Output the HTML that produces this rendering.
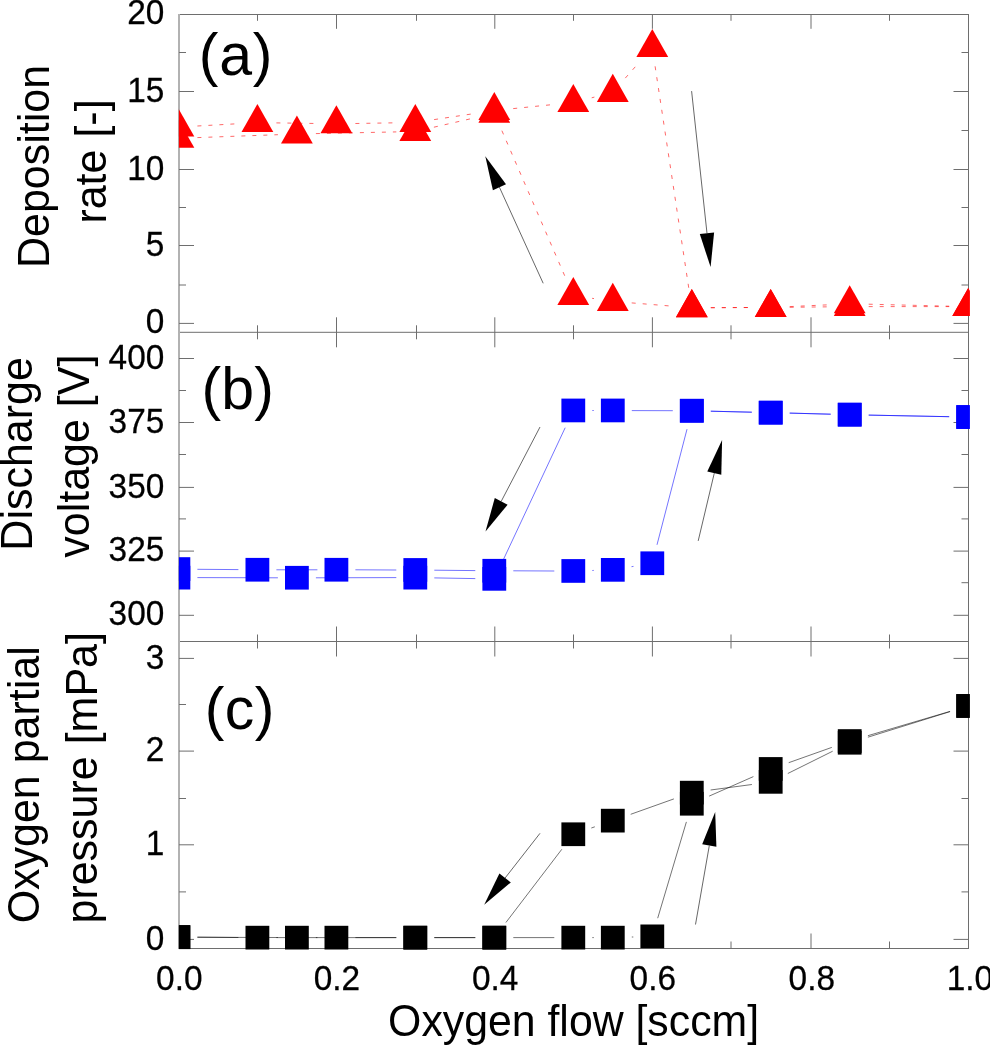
<!DOCTYPE html>
<html lang="en"><head><meta charset="utf-8"><title>Hysteresis chart</title>
<style>html,body{margin:0;padding:0;background:#fff}body{width:990px;height:1045px;overflow:hidden}svg{display:block}text{font-family:"Liberation Sans",Arial,sans-serif;fill:#000}</style></head><body>
<svg width="990" height="1045" viewBox="0 0 990 1045">
<rect width="990" height="1045" fill="#fff"/>
<defs><clipPath id="clip"><rect x="178.9" y="0" width="790.8" height="1045"/></clipPath></defs>
<g stroke="#6e6e6e" stroke-width="1" fill="none">
<line x1="179.0" y1="14.5" x2="969.0" y2="14.5"/>
<line x1="179.0" y1="332.3" x2="968.5" y2="332.3"/>
<line x1="179.0" y1="641.5" x2="968.5" y2="641.5"/>
<line x1="179.0" y1="948.5" x2="969.0" y2="948.5"/>
<line x1="968.5" y1="14.5" x2="968.5" y2="948.5"/>
</g>
<line x1="179.0" y1="14.0" x2="179.0" y2="949.0" stroke="#b2b2b2" stroke-width="2"/>
<g stroke="#6e6e6e" stroke-width="1">
<line x1="179.0" y1="52.5" x2="186.0" y2="52.5"/><line x1="961.5" y1="52.5" x2="968.5" y2="52.5"/>
<line x1="179.0" y1="91.5" x2="194.0" y2="91.5"/><line x1="953.5" y1="91.5" x2="968.5" y2="91.5"/>
<line x1="179.0" y1="130.5" x2="186.0" y2="130.5"/><line x1="961.5" y1="130.5" x2="968.5" y2="130.5"/>
<line x1="179.0" y1="169.5" x2="194.0" y2="169.5"/><line x1="953.5" y1="169.5" x2="968.5" y2="169.5"/>
<line x1="179.0" y1="207.5" x2="186.0" y2="207.5"/><line x1="961.5" y1="207.5" x2="968.5" y2="207.5"/>
<line x1="179.0" y1="245.5" x2="194.0" y2="245.5"/><line x1="953.5" y1="245.5" x2="968.5" y2="245.5"/>
<line x1="179.0" y1="285.0" x2="186.0" y2="285.0"/><line x1="961.5" y1="285.0" x2="968.5" y2="285.0"/>
<line x1="179.0" y1="323.4" x2="194.0" y2="323.4"/><line x1="953.5" y1="323.4" x2="968.5" y2="323.4"/>
</g>
<g stroke="#6e6e6e" stroke-width="1">
<line x1="179.0" y1="358.5" x2="194.0" y2="358.5"/><line x1="953.5" y1="358.5" x2="968.5" y2="358.5"/>
<line x1="179.0" y1="390.5" x2="186.0" y2="390.5"/><line x1="961.5" y1="390.5" x2="968.5" y2="390.5"/>
<line x1="179.0" y1="422.5" x2="194.0" y2="422.5"/><line x1="953.5" y1="422.5" x2="968.5" y2="422.5"/>
<line x1="179.0" y1="454.5" x2="186.0" y2="454.5"/><line x1="961.5" y1="454.5" x2="968.5" y2="454.5"/>
<line x1="179.0" y1="487.4" x2="194.0" y2="487.4"/><line x1="953.5" y1="487.4" x2="968.5" y2="487.4"/>
<line x1="179.0" y1="518.9" x2="186.0" y2="518.9"/><line x1="961.5" y1="518.9" x2="968.5" y2="518.9"/>
<line x1="179.0" y1="551.1" x2="194.0" y2="551.1"/><line x1="953.5" y1="551.1" x2="968.5" y2="551.1"/>
<line x1="179.0" y1="582.7" x2="186.0" y2="582.7"/><line x1="961.5" y1="582.7" x2="968.5" y2="582.7"/>
<line x1="179.0" y1="615.3" x2="194.0" y2="615.3"/><line x1="953.5" y1="615.3" x2="968.5" y2="615.3"/>
</g>
<g stroke="#6e6e6e" stroke-width="1">
<line x1="179.0" y1="658.4" x2="194.0" y2="658.4"/><line x1="953.5" y1="658.4" x2="968.5" y2="658.4"/>
<line x1="179.0" y1="704.5" x2="186.0" y2="704.5"/><line x1="961.5" y1="704.5" x2="968.5" y2="704.5"/>
<line x1="179.0" y1="751.1" x2="194.0" y2="751.1"/><line x1="953.5" y1="751.1" x2="968.5" y2="751.1"/>
<line x1="179.0" y1="798.5" x2="186.0" y2="798.5"/><line x1="961.5" y1="798.5" x2="968.5" y2="798.5"/>
<line x1="179.0" y1="844.8" x2="194.0" y2="844.8"/><line x1="953.5" y1="844.8" x2="968.5" y2="844.8"/>
<line x1="179.0" y1="891.9" x2="186.0" y2="891.9"/><line x1="961.5" y1="891.9" x2="968.5" y2="891.9"/>
<line x1="179.0" y1="939.4" x2="194.0" y2="939.4"/><line x1="953.5" y1="939.4" x2="968.5" y2="939.4"/>
</g>
<g stroke="#6e6e6e" stroke-width="1">
<line x1="257.5" y1="14.5" x2="257.5" y2="20.8"/>
<line x1="257.5" y1="325.3" x2="257.5" y2="339.3"/>
<line x1="257.5" y1="634.5" x2="257.5" y2="648.5"/>
<line x1="257.5" y1="941.5" x2="257.5" y2="948.5"/>
<line x1="336.5" y1="14.5" x2="336.5" y2="28.8"/>
<line x1="336.5" y1="317.3" x2="336.5" y2="347.3"/>
<line x1="336.5" y1="626.5" x2="336.5" y2="656.5"/>
<line x1="336.5" y1="933.5" x2="336.5" y2="948.5"/>
<line x1="416.5" y1="14.5" x2="416.5" y2="20.8"/>
<line x1="416.5" y1="325.3" x2="416.5" y2="339.3"/>
<line x1="416.5" y1="634.5" x2="416.5" y2="648.5"/>
<line x1="416.5" y1="941.5" x2="416.5" y2="948.5"/>
<line x1="494.8" y1="14.5" x2="494.8" y2="28.8"/>
<line x1="494.8" y1="317.3" x2="494.8" y2="347.3"/>
<line x1="494.8" y1="626.5" x2="494.8" y2="656.5"/>
<line x1="494.8" y1="933.5" x2="494.8" y2="948.5"/>
<line x1="573.5" y1="14.5" x2="573.5" y2="20.8"/>
<line x1="573.5" y1="325.3" x2="573.5" y2="339.3"/>
<line x1="573.5" y1="634.5" x2="573.5" y2="648.5"/>
<line x1="573.5" y1="941.5" x2="573.5" y2="948.5"/>
<line x1="652.4" y1="14.5" x2="652.4" y2="28.8"/>
<line x1="652.4" y1="317.3" x2="652.4" y2="347.3"/>
<line x1="652.4" y1="626.5" x2="652.4" y2="656.5"/>
<line x1="652.4" y1="933.5" x2="652.4" y2="948.5"/>
<line x1="731.0" y1="14.5" x2="731.0" y2="20.8"/>
<line x1="731.0" y1="325.3" x2="731.0" y2="339.3"/>
<line x1="731.0" y1="634.5" x2="731.0" y2="648.5"/>
<line x1="731.0" y1="941.5" x2="731.0" y2="948.5"/>
<line x1="811.0" y1="14.5" x2="811.0" y2="28.8"/>
<line x1="811.0" y1="317.3" x2="811.0" y2="347.3"/>
<line x1="811.0" y1="626.5" x2="811.0" y2="656.5"/>
<line x1="811.0" y1="933.5" x2="811.0" y2="948.5"/>
<line x1="889.5" y1="14.5" x2="889.5" y2="20.8"/>
<line x1="889.5" y1="325.3" x2="889.5" y2="339.3"/>
<line x1="889.5" y1="634.5" x2="889.5" y2="648.5"/>
<line x1="889.5" y1="941.5" x2="889.5" y2="948.5"/>
</g>
<g clip-path="url(#clip)">
<line x1="197.4" y1="126.0" x2="238.4" y2="123.7" stroke="#ff0000" stroke-width="0.6" stroke-dasharray="4 7" fill="none"/>
<line x1="276.4" y1="122.9" x2="317.4" y2="123.5" stroke="#ff0000" stroke-width="0.6" stroke-dasharray="4 7" fill="none"/>
<line x1="355.4" y1="123.5" x2="396.3" y2="122.8" stroke="#ff0000" stroke-width="0.6" stroke-dasharray="4 7" fill="none"/>
<line x1="434.1" y1="119.6" x2="475.5" y2="113.4" stroke="#ff0000" stroke-width="0.6" stroke-dasharray="4 7" fill="none"/>
<line x1="513.2" y1="108.6" x2="554.4" y2="104.4" stroke="#ff0000" stroke-width="0.6" stroke-dasharray="4 7" fill="none"/>
<line x1="591.7" y1="97.8" x2="594.4" y2="97.1" stroke="#ff0000" stroke-width="0.6" stroke-dasharray="4 7" fill="none"/>
<line x1="625.3" y1="78.1" x2="639.7" y2="61.8" stroke="#ff0000" stroke-width="0.6" stroke-dasharray="4 7" fill="none"/>
<line x1="655.1" y1="66.3" x2="688.9" y2="288.9" stroke="#ff0000" stroke-width="0.6" stroke-dasharray="4 7" fill="none"/>
<line x1="710.8" y1="307.7" x2="751.8" y2="307.5" stroke="#ff0000" stroke-width="0.6" stroke-dasharray="4 7" fill="none"/>
<line x1="789.7" y1="306.6" x2="830.8" y2="304.7" stroke="#ff0000" stroke-width="0.6" stroke-dasharray="4 7" fill="none"/>
<line x1="868.7" y1="304.2" x2="949.2" y2="306.2" stroke="#ff0000" stroke-width="0.6" stroke-dasharray="4 7" fill="none"/>
<polygon points="178.4,108.5 162.5,136.6 194.3,136.6" fill="#ff0000"/>
<polygon points="257.4,104.0 241.5,132.1 273.3,132.1" fill="#ff0000"/>
<polygon points="336.4,105.2 320.5,133.3 352.3,133.3" fill="#ff0000"/>
<polygon points="415.3,103.9 399.4,132.0 431.2,132.0" fill="#ff0000"/>
<polygon points="494.3,91.9 478.4,120.0 510.2,120.0" fill="#ff0000"/>
<polygon points="573.3,83.9 557.4,112.0 589.2,112.0" fill="#ff0000"/>
<polygon points="612.8,73.8 596.9,101.9 628.7,101.9" fill="#ff0000"/>
<polygon points="652.3,28.9 636.4,57.0 668.2,57.0" fill="#ff0000"/>
<polygon points="691.8,289.1 675.9,317.2 707.7,317.2" fill="#ff0000"/>
<polygon points="770.7,288.9 754.8,317.0 786.6,317.0" fill="#ff0000"/>
<polygon points="849.7,285.2 833.8,313.3 865.6,313.3" fill="#ff0000"/>
<polygon points="968.2,288.0 952.3,316.1 984.1,316.1" fill="#ff0000"/>
<line x1="868.7" y1="306.6" x2="949.2" y2="306.6" stroke="#ff0000" stroke-width="0.6" stroke-dasharray="4 7" fill="none"/>
<line x1="789.7" y1="307.3" x2="830.7" y2="306.8" stroke="#ff0000" stroke-width="0.6" stroke-dasharray="4 7" fill="none"/>
<line x1="710.8" y1="307.7" x2="751.8" y2="307.5" stroke="#ff0000" stroke-width="0.6" stroke-dasharray="4 7" fill="none"/>
<line x1="631.7" y1="302.9" x2="672.8" y2="306.2" stroke="#ff0000" stroke-width="0.6" stroke-dasharray="4 7" fill="none"/>
<line x1="592.1" y1="298.3" x2="594.0" y2="298.6" stroke="#ff0000" stroke-width="0.6" stroke-dasharray="4 7" fill="none"/>
<line x1="501.9" y1="130.7" x2="565.7" y2="278.1" stroke="#ff0000" stroke-width="0.6" stroke-dasharray="4 7" fill="none"/>
<line x1="433.9" y1="127.2" x2="475.8" y2="117.6" stroke="#ff0000" stroke-width="0.6" stroke-dasharray="4 7" fill="none"/>
<line x1="315.9" y1="133.6" x2="396.3" y2="131.9" stroke="#ff0000" stroke-width="0.6" stroke-dasharray="4 7" fill="none"/>
<line x1="197.4" y1="137.6" x2="277.9" y2="134.7" stroke="#ff0000" stroke-width="0.6" stroke-dasharray="4 7" fill="none"/>
<polygon points="968.2,288.0 952.3,316.1 984.1,316.1" fill="#ff0000"/>
<polygon points="849.7,288.0 833.8,316.1 865.6,316.1" fill="#ff0000"/>
<polygon points="770.7,288.9 754.8,317.0 786.6,317.0" fill="#ff0000"/>
<polygon points="691.8,289.1 675.9,317.2 707.7,317.2" fill="#ff0000"/>
<polygon points="612.8,282.8 596.9,310.9 628.7,310.9" fill="#ff0000"/>
<polygon points="573.3,276.9 557.4,305.0 589.2,305.0" fill="#ff0000"/>
<polygon points="494.3,94.7 478.4,122.8 510.2,122.8" fill="#ff0000"/>
<polygon points="415.3,112.9 399.4,141.0 431.2,141.0" fill="#ff0000"/>
<polygon points="296.9,115.4 281.0,143.5 312.8,143.5" fill="#ff0000"/>
<polygon points="178.4,119.7 162.5,147.8 194.3,147.8" fill="#ff0000"/>
<line x1="197.4" y1="569.3" x2="238.4" y2="569.6" stroke="#0000ff" stroke-width="0.55" fill="none"/>
<line x1="276.4" y1="569.8" x2="317.4" y2="569.8" stroke="#0000ff" stroke-width="0.55" fill="none"/>
<line x1="355.4" y1="569.8" x2="396.3" y2="570.0" stroke="#0000ff" stroke-width="0.55" fill="none"/>
<line x1="434.3" y1="570.2" x2="475.3" y2="570.6" stroke="#0000ff" stroke-width="0.55" fill="none"/>
<line x1="513.3" y1="570.8" x2="554.3" y2="571.0" stroke="#0000ff" stroke-width="0.55" fill="none"/>
<line x1="592.3" y1="570.5" x2="593.8" y2="570.4" stroke="#0000ff" stroke-width="0.55" fill="none"/>
<line x1="631.5" y1="566.7" x2="633.5" y2="566.4" stroke="#0000ff" stroke-width="0.55" fill="none"/>
<line x1="657.0" y1="544.8" x2="687.0" y2="429.2" stroke="#0000ff" stroke-width="0.55" fill="none"/>
<line x1="710.8" y1="411.2" x2="751.8" y2="412.2" stroke="#0000ff" stroke-width="0.55" fill="none"/>
<line x1="789.7" y1="413.1" x2="830.7" y2="414.2" stroke="#0000ff" stroke-width="0.55" fill="none"/>
<line x1="868.7" y1="415.1" x2="949.2" y2="416.7" stroke="#0000ff" stroke-width="0.55" fill="none"/>
<rect x="166.5" y="557.2" width="23.8" height="23.7" fill="#0000ff"/>
<rect x="245.5" y="557.9" width="23.8" height="23.7" fill="#0000ff"/>
<rect x="324.5" y="557.9" width="23.8" height="23.7" fill="#0000ff"/>
<rect x="403.4" y="558.1" width="23.8" height="23.7" fill="#0000ff"/>
<rect x="482.4" y="558.9" width="23.8" height="23.7" fill="#0000ff"/>
<rect x="561.4" y="559.1" width="23.8" height="23.7" fill="#0000ff"/>
<rect x="600.9" y="558.0" width="23.8" height="23.7" fill="#0000ff"/>
<rect x="640.4" y="551.4" width="23.8" height="23.7" fill="#0000ff"/>
<rect x="679.9" y="398.9" width="23.8" height="23.7" fill="#0000ff"/>
<rect x="758.8" y="400.8" width="23.8" height="23.7" fill="#0000ff"/>
<rect x="837.8" y="402.8" width="23.8" height="23.7" fill="#0000ff"/>
<rect x="956.3" y="405.2" width="23.8" height="23.7" fill="#0000ff"/>
<line x1="868.7" y1="415.1" x2="949.2" y2="416.7" stroke="#0000ff" stroke-width="0.55" fill="none"/>
<line x1="789.7" y1="413.1" x2="830.7" y2="414.2" stroke="#0000ff" stroke-width="0.55" fill="none"/>
<line x1="710.8" y1="411.2" x2="751.8" y2="412.2" stroke="#0000ff" stroke-width="0.55" fill="none"/>
<line x1="631.8" y1="410.6" x2="672.8" y2="410.7" stroke="#0000ff" stroke-width="0.55" fill="none"/>
<line x1="592.3" y1="410.5" x2="593.8" y2="410.5" stroke="#0000ff" stroke-width="0.55" fill="none"/>
<line x1="502.4" y1="561.7" x2="565.2" y2="427.7" stroke="#0000ff" stroke-width="0.55" fill="none"/>
<line x1="434.3" y1="577.9" x2="475.3" y2="578.6" stroke="#0000ff" stroke-width="0.55" fill="none"/>
<line x1="315.9" y1="577.8" x2="396.3" y2="577.6" stroke="#0000ff" stroke-width="0.55" fill="none"/>
<line x1="197.4" y1="577.6" x2="277.9" y2="577.8" stroke="#0000ff" stroke-width="0.55" fill="none"/>
<rect x="956.3" y="405.2" width="23.8" height="23.7" fill="#0000ff"/>
<rect x="837.8" y="402.8" width="23.8" height="23.7" fill="#0000ff"/>
<rect x="758.8" y="400.8" width="23.8" height="23.7" fill="#0000ff"/>
<rect x="679.9" y="398.9" width="23.8" height="23.7" fill="#0000ff"/>
<rect x="600.9" y="398.6" width="23.8" height="23.7" fill="#0000ff"/>
<rect x="561.4" y="398.6" width="23.8" height="23.7" fill="#0000ff"/>
<rect x="482.4" y="567.0" width="23.8" height="23.7" fill="#0000ff"/>
<rect x="403.4" y="565.8" width="23.8" height="23.7" fill="#0000ff"/>
<rect x="285.0" y="565.9" width="23.8" height="23.7" fill="#0000ff"/>
<rect x="166.5" y="565.8" width="23.8" height="23.7" fill="#0000ff"/>
<line x1="197.4" y1="937.1" x2="238.4" y2="937.5" stroke="#000" stroke-width="0.55" fill="none"/>
<line x1="276.4" y1="937.6" x2="317.4" y2="937.6" stroke="#000" stroke-width="0.55" fill="none"/>
<line x1="355.4" y1="937.6" x2="396.3" y2="937.6" stroke="#000" stroke-width="0.55" fill="none"/>
<line x1="434.3" y1="937.6" x2="475.3" y2="937.6" stroke="#000" stroke-width="0.55" fill="none"/>
<line x1="513.3" y1="937.6" x2="554.3" y2="937.6" stroke="#000" stroke-width="0.55" fill="none"/>
<line x1="592.3" y1="937.6" x2="593.8" y2="937.6" stroke="#000" stroke-width="0.55" fill="none"/>
<line x1="631.8" y1="937.0" x2="633.3" y2="937.0" stroke="#000" stroke-width="0.55" fill="none"/>
<line x1="657.7" y1="918.2" x2="686.4" y2="821.9" stroke="#000" stroke-width="0.55" fill="none"/>
<line x1="709.2" y1="796.1" x2="753.4" y2="776.6" stroke="#000" stroke-width="0.55" fill="none"/>
<line x1="788.7" y1="762.7" x2="831.8" y2="747.4" stroke="#000" stroke-width="0.55" fill="none"/>
<line x1="867.9" y1="735.7" x2="950.0" y2="711.4" stroke="#000" stroke-width="0.55" fill="none"/>
<rect x="166.5" y="925.1" width="23.8" height="23.7" fill="#000"/>
<rect x="245.5" y="925.8" width="23.8" height="23.7" fill="#000"/>
<rect x="324.5" y="925.8" width="23.8" height="23.7" fill="#000"/>
<rect x="403.4" y="925.8" width="23.8" height="23.7" fill="#000"/>
<rect x="482.4" y="925.8" width="23.8" height="23.7" fill="#000"/>
<rect x="561.4" y="925.8" width="23.8" height="23.7" fill="#000"/>
<rect x="600.9" y="925.8" width="23.8" height="23.7" fill="#000"/>
<rect x="640.4" y="924.5" width="23.8" height="23.7" fill="#000"/>
<rect x="679.9" y="791.9" width="23.8" height="23.7" fill="#000"/>
<rect x="758.8" y="757.1" width="23.8" height="23.7" fill="#000"/>
<rect x="837.8" y="729.2" width="23.8" height="23.7" fill="#000"/>
<rect x="956.3" y="694.1" width="23.8" height="23.7" fill="#000"/>
<line x1="867.9" y1="737.2" x2="950.1" y2="711.6" stroke="#000" stroke-width="0.55" fill="none"/>
<line x1="787.8" y1="773.5" x2="832.7" y2="751.2" stroke="#000" stroke-width="0.55" fill="none"/>
<line x1="710.6" y1="790.0" x2="751.9" y2="784.5" stroke="#000" stroke-width="0.55" fill="none"/>
<line x1="630.7" y1="814.3" x2="673.9" y2="798.9" stroke="#000" stroke-width="0.55" fill="none"/>
<line x1="591.3" y1="828.0" x2="594.8" y2="826.8" stroke="#000" stroke-width="0.55" fill="none"/>
<line x1="505.9" y1="922.5" x2="561.8" y2="849.3" stroke="#000" stroke-width="0.55" fill="none"/>
<line x1="434.3" y1="937.6" x2="475.3" y2="937.6" stroke="#000" stroke-width="0.55" fill="none"/>
<line x1="315.9" y1="937.6" x2="396.3" y2="937.6" stroke="#000" stroke-width="0.55" fill="none"/>
<line x1="197.4" y1="937.3" x2="277.9" y2="937.5" stroke="#000" stroke-width="0.55" fill="none"/>
<rect x="956.3" y="694.1" width="23.8" height="23.7" fill="#000"/>
<rect x="837.8" y="730.9" width="23.8" height="23.7" fill="#000"/>
<rect x="758.8" y="770.0" width="23.8" height="23.7" fill="#000"/>
<rect x="679.9" y="780.8" width="23.8" height="23.7" fill="#000"/>
<rect x="600.9" y="808.8" width="23.8" height="23.7" fill="#000"/>
<rect x="561.4" y="822.4" width="23.8" height="23.7" fill="#000"/>
<rect x="482.4" y="925.8" width="23.8" height="23.7" fill="#000"/>
<rect x="403.4" y="925.8" width="23.8" height="23.7" fill="#000"/>
<rect x="285.0" y="925.8" width="23.8" height="23.7" fill="#000"/>
<rect x="166.5" y="925.4" width="23.8" height="23.7" fill="#000"/>
</g>
<line x1="543.2" y1="283.3" x2="499.4" y2="187.2" stroke="#000" stroke-width="0.6"/>
<polygon points="485.3,156.3 506.0,184.2 492.9,190.2" fill="#000"/>
<line x1="691.6" y1="91.1" x2="707.0" y2="233.3" stroke="#000" stroke-width="0.6"/>
<polygon points="710.6,267.1 699.8,234.1 714.1,232.5" fill="#000"/>
<line x1="540.0" y1="427.0" x2="501.2" y2="501.4" stroke="#000" stroke-width="0.6"/>
<polygon points="485.5,531.5 494.8,498.0 507.6,504.7" fill="#000"/>
<line x1="698.2" y1="540.9" x2="714.3" y2="473.1" stroke="#000" stroke-width="0.6"/>
<polygon points="722.1,440.0 721.3,474.7 707.3,471.4" fill="#000"/>
<line x1="540.0" y1="833.3" x2="505.1" y2="878.0" stroke="#000" stroke-width="0.6"/>
<polygon points="484.2,904.8 499.4,873.6 510.8,882.4" fill="#000"/>
<line x1="695.5" y1="924.5" x2="709.3" y2="845.6" stroke="#000" stroke-width="0.6"/>
<polygon points="715.2,812.1 716.4,846.8 702.2,844.3" fill="#000"/>
<text transform="translate(164.3,333.4) scale(1,1.07)" font-size="33.4" text-anchor="end" stroke="#000" stroke-width="0.25">0</text>
<text transform="translate(164.3,255.5) scale(1,1.07)" font-size="33.4" text-anchor="end" stroke="#000" stroke-width="0.25">5</text>
<text transform="translate(164.3,179.5) scale(1,1.07)" font-size="33.4" text-anchor="end" stroke="#000" stroke-width="0.25">10</text>
<text transform="translate(164.3,101.5) scale(1,1.07)" font-size="33.4" text-anchor="end" stroke="#000" stroke-width="0.25">15</text>
<text transform="translate(164.3,24.0) scale(1,1.07)" font-size="33.4" text-anchor="end" stroke="#000" stroke-width="0.25">20</text>
<text transform="translate(164.3,625.4) scale(1,1.07)" font-size="33.4" text-anchor="end" stroke="#000" stroke-width="0.25">300</text>
<text transform="translate(164.3,561.2) scale(1,1.07)" font-size="33.4" text-anchor="end" stroke="#000" stroke-width="0.25">325</text>
<text transform="translate(164.3,497.5) scale(1,1.07)" font-size="33.4" text-anchor="end" stroke="#000" stroke-width="0.25">350</text>
<text transform="translate(164.3,432.6) scale(1,1.07)" font-size="33.4" text-anchor="end" stroke="#000" stroke-width="0.25">375</text>
<text transform="translate(164.3,368.6) scale(1,1.07)" font-size="33.4" text-anchor="end" stroke="#000" stroke-width="0.25">400</text>
<text transform="translate(164.3,949.5) scale(1,1.07)" font-size="33.4" text-anchor="end" stroke="#000" stroke-width="0.25">0</text>
<text transform="translate(164.3,854.9) scale(1,1.07)" font-size="33.4" text-anchor="end" stroke="#000" stroke-width="0.25">1</text>
<text transform="translate(164.3,761.2) scale(1,1.07)" font-size="33.4" text-anchor="end" stroke="#000" stroke-width="0.25">2</text>
<text transform="translate(164.3,668.5) scale(1,1.07)" font-size="33.4" text-anchor="end" stroke="#000" stroke-width="0.25">3</text>
<text transform="translate(179.3,990.0) scale(1,1.07)" font-size="33.4" text-anchor="middle" stroke="#000" stroke-width="0.25">0.0</text>
<text transform="translate(336.9,990.0) scale(1,1.07)" font-size="33.4" text-anchor="middle" stroke="#000" stroke-width="0.25">0.2</text>
<text transform="translate(495.2,990.0) scale(1,1.07)" font-size="33.4" text-anchor="middle" stroke="#000" stroke-width="0.25">0.4</text>
<text transform="translate(652.8,990.0) scale(1,1.07)" font-size="33.4" text-anchor="middle" stroke="#000" stroke-width="0.25">0.6</text>
<text transform="translate(811.8,990.0) scale(1,1.07)" font-size="33.4" text-anchor="middle" stroke="#000" stroke-width="0.25">0.8</text>
<text transform="translate(969.9,990.0) scale(1,1.07)" font-size="33.4" text-anchor="middle" stroke="#000" stroke-width="0.25">1.0</text>
<text transform="translate(573.6,1036.3) scale(1,1.03)" font-size="42.8" text-anchor="middle">Oxygen flow [sccm]</text>
<g font-size="59">
<text x="198.8" y="74.7" letter-spacing="0.7">(a)</text>
<text x="201.5" y="408.8" letter-spacing="0.2">(b)</text>
<text x="204.7" y="729.3" letter-spacing="0.5">(c)</text>
</g>
<text transform="translate(48.9,166.5) rotate(-90) scale(1,1.03)" font-size="43.0" text-anchor="middle">Deposition</text>
<text transform="translate(105.5,161.5) rotate(-90) scale(1,1.03)" font-size="43.0" text-anchor="middle">rate [-]</text>
<text transform="translate(31.5,453.9) rotate(-90) scale(1,1.03)" font-size="43.0" text-anchor="middle">Discharge</text>
<text transform="translate(88.7,456.2) rotate(-90) scale(1,1.03)" font-size="43.0" text-anchor="middle">voltage [V]</text>
<text transform="translate(38.5,784.8) rotate(-90) scale(1,1.03)" font-size="43.0" text-anchor="middle">Oxygen partial</text>
<text transform="translate(97.3,777.8) rotate(-90) scale(1,1.03)" font-size="43.0" text-anchor="middle">pressure [mPa]</text>
</svg></body></html>
